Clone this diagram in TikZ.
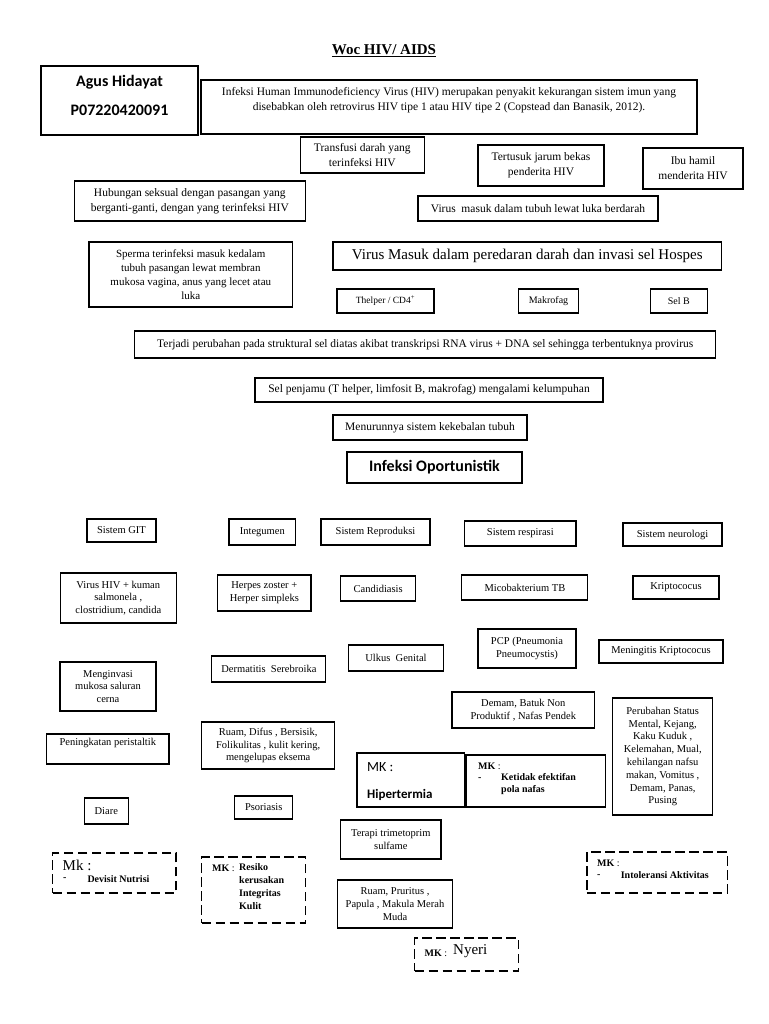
\documentclass[tikz,border=0pt]{standalone}
\usepackage{fontspec}
\setmainfont{Liberation Serif}
\newfontfamily\calib{Carlito}
\newcommand\fz[2]{\fontsize{#1}{#2}\selectfont}
\begin{document}
\begin{tikzpicture}[x=1pt,y=-1pt,
 bx/.style={draw, line width=1.1pt, inner sep=1pt, align=center, font=\fz{10.5}{12.8}},
 upper/.style={font=\fz{11.5}{15}},
 dbx/.style={draw, line width=1.5pt, dash pattern=on 9.5pt off 4.5pt, inner sep=0pt},
 lbl/.style={inner sep=0pt, anchor=west, align=left},
 mkb/.style={lbl, font=\bfseries\fz{10}{12.8}},
]
\useasboundingbox[fill=white] (0,0) rectangle (768,1024);

% title
\node[font=\bfseries\fz{15}{18}] (title) at (384,51) {\underline{Woc HIV/ AIDS}};

% header boxes
\node[bx, minimum width=157, minimum height=69] (agus) at (119.5,100.5) {};
\node[align=center, inner sep=0pt, font=\calib\bfseries\fz{16}{19}] (agustxt) at (119.5,95) {Agus Hidayat\\[10pt]P07220420091};

\node[bx, minimum width=496, minimum height=54] (infeksi) at (449,107) {};
\node[align=center, inner sep=0pt, font=\fz{11.5}{14.5}] (infeksitxt) at (449,100) {Infeksi Human Immunodeficiency Virus (HIV) merupakan penyakit kekurangan sistem imun yang\\disebabkan oleh retrovirus HIV tipe 1 atau HIV tipe 2 (Copstead dan Banasik, 2012).};

% transmission
\node[bx, upper, minimum width=123.5, minimum height=36] (transfusi) at (362.3,155) {Transfusi darah yang\\terinfeksi HIV};
\node[bx, upper, minimum width=126, minimum height=41] (tertusuk) at (541,165.5) {Tertusuk jarum bekas\\penderita HIV};
\node[bx, upper, minimum width=100, minimum height=41] (ibuhamil) at (693,168.5) {Ibu hamil\\menderita HIV};
\node[bx, upper, minimum width=230.5, minimum height=40] (hubungan) at (189.8,201) {Hubungan seksual dengan pasangan yang\\berganti-ganti, dengan yang terinfeksi HIV};
\node[bx, upper, minimum width=240, minimum height=25] (luka) at (538,208.5) {Virus\ \ masuk dalam tubuh lewat luka berdarah};
\node[bx, font=\fz{11}{14}, minimum width=203.6, minimum height=65] (sperma) at (190.8,274.5) {Sperma terinfeksi masuk kedalam\\tubuh pasangan lewat membran\\mukosa vagina, anus yang lecet atau\\luka};
\node[bx, font=\fz{15}{18}, minimum width=388.6, minimum height=28] (peredaran) at (527.3,256) {Virus Masuk dalam peredaran darah dan invasi sel Hospes};

% cells
\node[bx, font=\fz{9.5}{12}, minimum width=97, minimum height=24] (thelper) at (385.5,301) {Thelper / CD4\textsuperscript{+}};
\node[bx, font=\fz{10}{12}, minimum width=60, minimum height=24] (makrofag) at (548.5,301) {Makrofag};
\node[bx, font=\fz{10}{12}, minimum width=56.5, minimum height=24] (selb) at (678.8,301) {Sel B};

% chain
\node[bx, font=\fz{11.5}{14}, minimum width=581, minimum height=27] (terjadi) at (425.3,344.5) {Terjadi perubahan pada struktural sel diatas akibat transkripsi RNA virus + DNA sel sehingga terbentuknya provirus};
\node[bx, upper, minimum width=348, minimum height=24] (penjamu) at (429,390) {Sel penjamu (T helper, limfosit B, makrofag) mengalami kelumpuhan};
\node[bx, upper, minimum width=194, minimum height=25] (menurun) at (430,427.5) {Menurunnya sistem kekebalan tubuh};
\node[bx, font=\calib\bfseries\fz{16}{19}, minimum width=175, minimum height=31] (infop) at (434.5,467.5) {Infeksi Oportunistik};

% systems
\node[bx, minimum width=69, minimum height=23] (git) at (121.5,530.5) {Sistem GIT};
\node[bx, minimum width=66.6, minimum height=26] (integumen) at (262.3,532) {Integumen};
\node[bx, minimum width=109, minimum height=26] (reproduksi) at (375.5,532) {Sistem Reproduksi};
\node[bx, minimum width=111.3, minimum height=25] (respirasi) at (520.3,533.5) {Sistem respirasi};
\node[bx, minimum width=99, minimum height=23] (neurologi) at (672.5,534.5) {Sistem neurologi};

% agents
\node[bx, minimum width=116.5, minimum height=50] (kuman) at (118.3,598) {Virus HIV + kuman\\salmonela ,\\clostridium, candida};
\node[bx, minimum width=93.4, minimum height=36] (herpes) at (264.3,593) {Herpes zoster +\\Herper simpleks};
\node[bx, minimum width=75, minimum height=25] (candidiasis) at (378.2,588.5) {Candidiasis};
\node[bx, minimum width=126, minimum height=25] (mico) at (524.9,587.5) {Micobakterium TB};
\node[bx, minimum width=86, minimum height=23] (kripto) at (676,587.5) {Kriptococus};

% manifestations
\node[bx, minimum width=98, minimum height=39] (pcp) at (527,648.5) {PCP (Pneumonia\\Pneumocystis)};
\node[bx, minimum width=124, minimum height=23] (meningitis) at (661,651.5) {Meningitis Kriptococus};
\node[bx, minimum width=96, minimum height=49] (menginvasi) at (108,686.5) {Menginvasi\\mukosa saluran\\cerna};
\node[bx, minimum width=114, minimum height=26] (dermatitis) at (268.9,669) {Dermatitis\ \ Serebroika};
\node[bx, minimum width=95, minimum height=26] (ulkus) at (396,658) {Ulkus\ \ Genital};
\node[bx, minimum width=142.6, minimum height=36] (demam) at (523.3,710) {Demam, Batuk Non\\Produktif , Nafas Pendek};
\node[bx, minimum width=100, minimum height=117] (perubahan) at (662.7,756.5) {Perubahan Status\\Mental, Kejang,\\Kaku Kuduk ,\\Kelemahan, Mual,\\kehilangan nafsu\\makan, Vomitus ,\\Demam, Panas,\\Pusing};
\node[bx, minimum width=122.4, minimum height=30] (peningkatan) at (107.8,749) {};
\node[inner sep=0pt, font=\fz{10.5}{12.8}] (peningkatantxt) at (107.8,743) {Peningkatan peristaltik};
\node[bx, minimum width=133.3, minimum height=47] (ruamdifus) at (268.2,745.5) {Ruam, Difus , Bersisik,\\Folikulitas , kulit kering,\\mengelupas eksema};
\node[bx, minimum width=44, minimum height=26] (diare) at (106.3,811) {Diare};
\node[bx, minimum width=57.8, minimum height=23] (psoriasis) at (263.7,807.5) {Psoriasis};
\node[bx, minimum width=100.3, minimum height=39] (terapi) at (390.8,839.5) {Terapi trimetoprim\\sulfame};
\node[bx, minimum width=114.8, minimum height=48] (ruampruritus) at (395,904) {Ruam, Pruritus ,\\Papula , Makula Merah\\Muda};

% MK boxes (solid)
\node[bx, minimum width=107.7, minimum height=54] (mkhiper) at (410.8,780) {};
\node[lbl, font=\calib\fz{14}{16}] (mkhiper1) at (367,767) {MK :};
\node[lbl, font=\calib\bfseries\fz{13}{16}] (mkhiper2) at (367,794.5) {Hipertermia};

\node[bx, minimum width=139.4, minimum height=52] (mkketidak) at (535.7,781) {};
\node[mkb] (mkketidak1) at (478,766.5) {MK\textmd{ :}};
\node[mkb] (mkketidak2) at (478,779) {-};
\node[mkb] (mkketidak3) at (501,777.5) {Ketidak efektifan};
\node[mkb] (mkketidak4) at (501,790) {pola nafas};

% MK boxes (dashed)
\node[dbx, minimum width=123.3, minimum height=40] (devisit) at (114.3,873) {};
\node[lbl, font=\fz{15}{17}] (devisit1) at (62.5,865) {Mk :};
\node[mkb] (devisit2) at (63,879) {-};
\node[mkb] (devisit3) at (87.3,879) {Devisit Nutrisi};

\node[dbx, minimum width=104, minimum height=66] (resiko) at (253.7,890) {};
\node[mkb] (resiko1) at (212,868) {MK\textmd{ :}};
\node[mkb, font=\bfseries\fz{10}{13}, anchor=north west] (resiko2) at (239,863.5) {Resiko\\kerusakan\\Integritas\\Kulit};

\node[dbx, minimum width=140.5, minimum height=41] (intoleransi) at (657.2,872.5) {};
\node[mkb] (intoleransi1) at (597,863) {MK\textmd{ :}};
\node[mkb] (intoleransi2) at (597,876.5) {-};
\node[mkb] (intoleransi3) at (620.6,875) {Intoleransi Aktivitas};

\node[dbx, minimum width=104, minimum height=33] (nyeri) at (466.6,954.5) {};
\node[mkb] (nyeri1) at (424.5,953.5) {MK\textmd{ :}};
\node[lbl, font=\fz{15}{17}] (nyeri2) at (453,951.5) {Nyeri};
\end{tikzpicture}
\end{document}
